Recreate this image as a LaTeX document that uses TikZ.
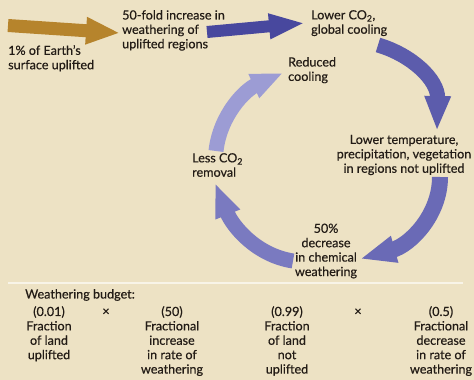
\documentclass[tikz,border=0pt]{standalone}
\usepackage{fontspec}
\setmainfont{Lato}[FakeBold=0.45]
\usetikzlibrary{arrows.meta}
\definecolor{bg}{RGB}{237,226,196}
\definecolor{txt}{RGB}{35,28,22}
\definecolor{brownarr}{RGB}{182,132,44}
\definecolor{bA}{RGB}{72,72,158}
\definecolor{bB}{RGB}{92,92,172}
\definecolor{bC}{RGB}{106,106,182}
\definecolor{bD}{RGB}{122,122,192}
\definecolor{bE}{RGB}{156,156,212}
\definecolor{sep}{RGB}{248,244,232}
\tikzset{
  lbl/.style={inner sep=0pt, text=txt, font=\fontsize{12.6}{14.4}\selectfont\addfontfeatures{FakeBold=0.45}},
  fat/.style={line width=#1},
  head/.style n args={2}{-{Triangle[length=#1,width=#2]}},
}
\begin{document}
\begin{tikzpicture}[x=1pt,y=-1pt]
\useasboundingbox (0,0) rectangle (474,380);
\fill[bg] (0,0) rectangle (474,380);

% text nodes
\node[lbl, anchor=north west, align=left] (uplift) at (8,45) {1\% of Earth's\\surface uplifted};
\node[lbl, anchor=north west, align=left] (fold) at (122,10) {50-fold increase in\\weathering of\\uplifted regions};
\node[lbl, anchor=north west, align=left] (lowco) at (311,10) {Lower CO\textsubscript{2},\\global cooling};
\node[lbl, align=center] (lowtemp) at (404,155) {Lower temperature,\\precipitation, vegetation\\in regions not uplifted};
\node[lbl, align=center] (dec) at (326,251) {50\%\\decrease\\in chemical\\weathering};
\node[lbl, anchor=north west, align=left] (less) at (192,153) {Less CO\textsubscript{2}\\removal};
\node[lbl, anchor=north west, align=left] (red) at (288,57) {Reduced\\cooling};

% arrow end points
\coordinate (a0s) at (8,25.5);   \coordinate (a0e) at (120,33);
\coordinate (a1s) at (207,32);   \coordinate (a1e) at (305,23);
\coordinate (a2s) at (378,45);   \coordinate (a2e) at (437,131);
\coordinate (a3s) at (440,177);  \coordinate (a3e) at (360,259);
\coordinate (a4s) at (293,261);  \coordinate (a4e) at (215,183);
\coordinate (a5s) at (216,151);  \coordinate (a5e) at (283,73);

\draw[brownarr, fat=13pt, head={34pt}{25pt}] (a0s) -- (a0e);
\draw[bA, fat=12pt, head={36pt}{23pt}] (a1s) -- (a1e);
\draw[bB, fat=15pt, head={35pt}{24pt}] (a2s) .. controls (412,55) and (438,80) .. (a2e);
\draw[bC, fat=16pt, head={36pt}{25pt}] (a3s) .. controls (440,215) and (410,245) .. (a3e);
\draw[bD, fat=15pt, head={34pt}{24pt}] (a4s) .. controls (255,255) and (232,225) .. (a4e);
\draw[bE, fat=15pt, head={32pt}{24pt}] (a5s) .. controls (220,115) and (245,90) .. (a5e);

% separator
\coordinate (sepL) at (8,283); \coordinate (sepR) at (463,283);
\draw[sep, line width=2pt] (sepL) -- (sepR);

% budget
\node[lbl, anchor=west] (budget) at (25,295) {Weathering budget:};
\node[lbl, align=center, anchor=north] (c1) at (49,306) {(0.01)\\Fraction\\of land\\uplifted};
\node[lbl] (x1) at (106,312) {×};
\node[lbl, align=center, anchor=north] (c2) at (172,306) {(50)\\Fractional\\increase\\in rate of\\weathering};
\node[lbl, align=center, anchor=north] (c3) at (287,306) {(0.99)\\Fraction\\of land\\not\\uplifted};
\node[lbl] (x2) at (358,312) {×};
\node[lbl, align=center, anchor=north] (c4) at (441,306) {(0.5)\\Fractional\\decrease\\in rate of\\weathering};
\end{tikzpicture}
\end{document}
